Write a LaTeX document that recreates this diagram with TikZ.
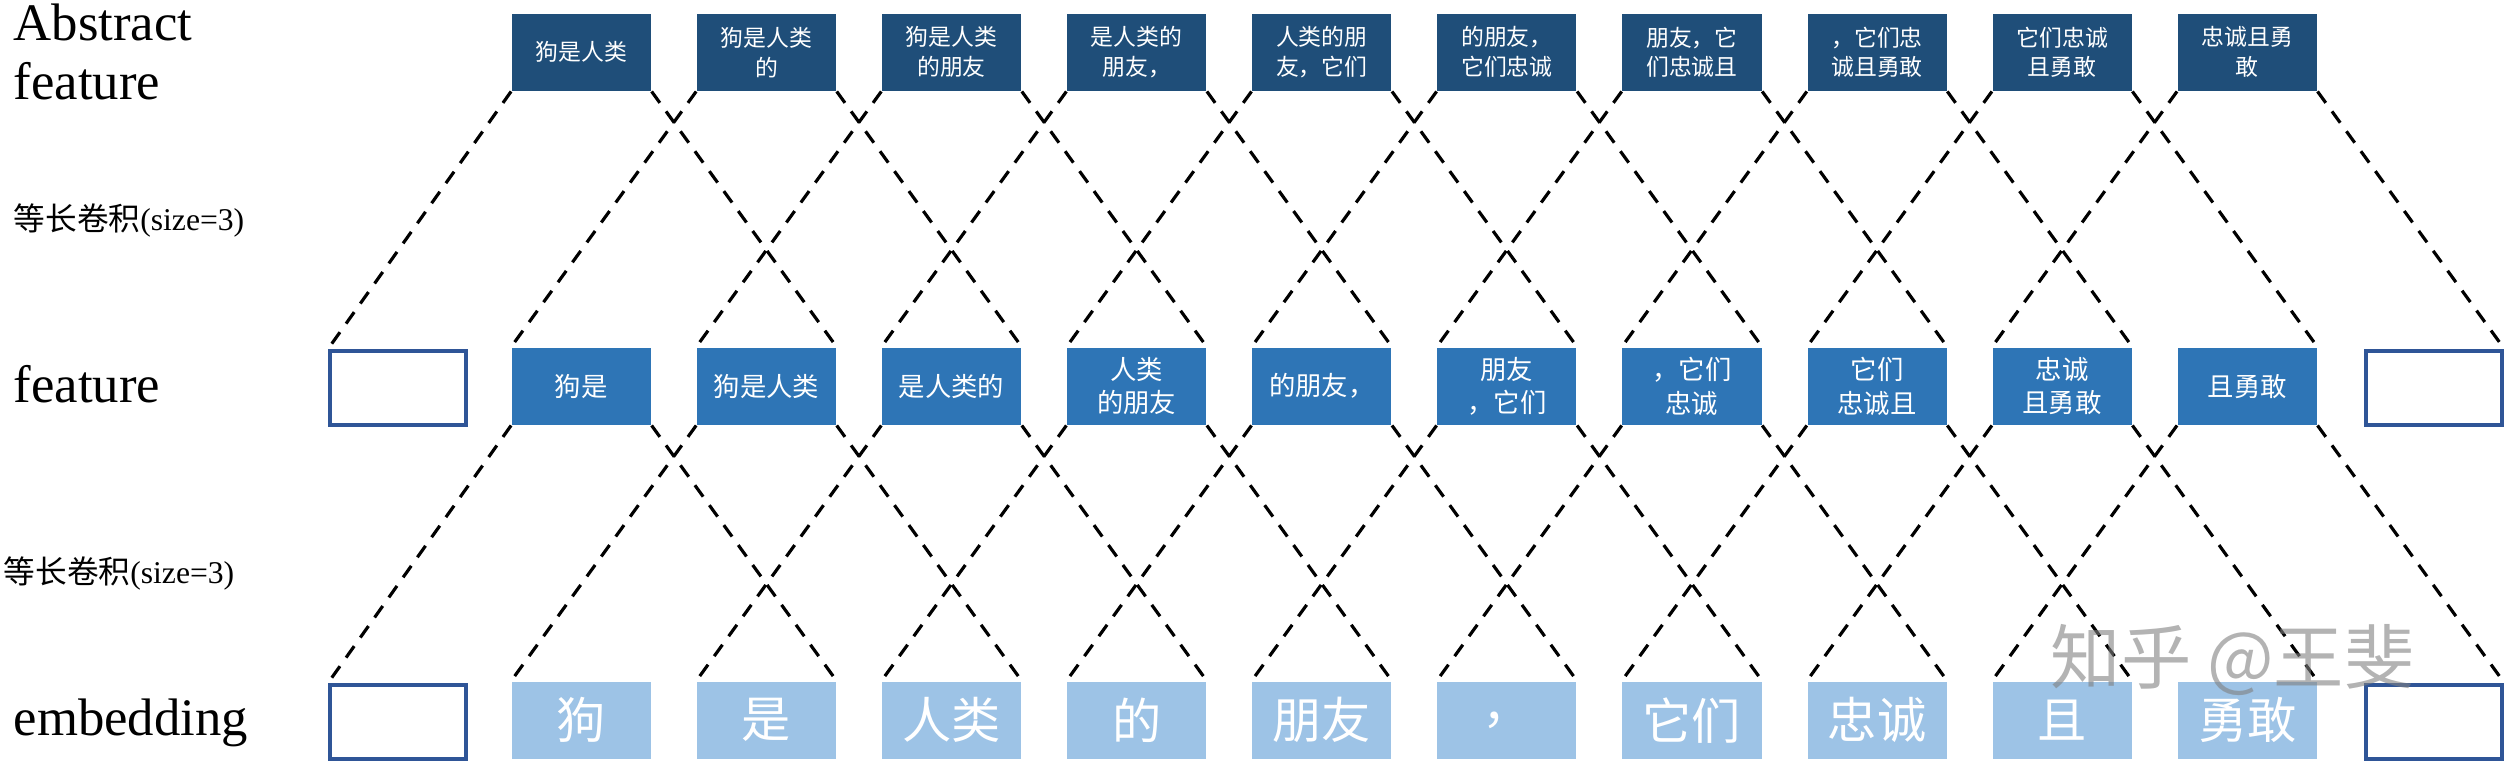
\documentclass[tikz,border=0pt]{standalone}
\usepackage{fontspec}
\setmainfont{Liberation Serif}
\newfontfamily\cjk{Noto Sans CJK SC}
\definecolor{topc}{HTML}{1F4E79}
\definecolor{featc}{HTML}{2E75B6}
\definecolor{embc}{HTML}{9DC3E6}
\definecolor{emptyc}{HTML}{2F5597}
\begin{document}
\begin{tikzpicture}[x=0.01cm,y=-0.01cm,
  box/.style={minimum width=1.39cm,minimum height=0.77cm,inner sep=0pt,anchor=north west,text=white,align=center},
  topbox/.style={box,fill=topc,font=\cjk\fontsize{6.5}{8.5}\selectfont},
  featbox/.style={box,fill=featc,font=\cjk\fontsize{7.5}{9.5}\selectfont},
  embbox/.style={box,fill=embc,font=\cjk\fontsize{14}{16}\selectfont},
  emptybox/.style={box,draw=emptyc,line width=1.2pt,minimum width=1.36cm,minimum height=0.74cm},
  dl/.style={dashed,line width=0.9pt,dash pattern=on 4pt off 3pt},
  lab/.style={anchor=west,inner sep=0pt}]
\useasboundingbox (0,0) rectangle (2509,764);
% top row
\foreach \i/\t in {1/狗是人类,2/狗是人类\\的,3/狗是人类\\的朋友,4/是人类的\\朋友，,5/人类的朋\\友，它们,6/的朋友，\\它们忠诚,7/朋友，它\\们忠诚且,8/，它们忠\\诚且勇敢,9/它们忠诚\\且勇敢,10/忠诚且勇\\敢}{
  \node[topbox] (t\i) at (326+185.1*\i,13) {\t};
}
% feature row
\node[emptybox] (f0) at (328,349) {};
\node[emptybox] (f11) at (328+185.1*11,349) {};
\foreach \i/\t in {1/狗是,2/狗是人类,3/是人类的,4/人类\\的朋友,5/的朋友，,6/朋友\\，它们,7/，它们\\忠诚,8/它们\\忠诚且,9/忠诚\\且勇敢,10/且勇敢}{
  \node[featbox] (f\i) at (326+185.1*\i,347) {\t};
}
% embedding row
\node[emptybox] (e0) at (328,683) {};
\node[emptybox] (e11) at (328+185.1*11,683) {};
\foreach \i/\t in {1/狗,2/是,3/人类,4/的,5/朋友,6/，,7/它们,8/忠诚,9/且,10/勇敢}{
  \node[embbox] (e\i) at (326+185.1*\i,681) {\t};
}
% connectors
\foreach \i in {1,...,10}{
  \pgfmathtruncatemacro{\j}{\i-1}
  \pgfmathtruncatemacro{\k}{\i+1}
  \draw[dl] (t\i.south west) -- (f\j.north west);
  \draw[dl] (t\i.south east) -- (f\k.north east);
  \draw[dl] (f\i.south west) -- (e\j.north west);
  \draw[dl] (f\i.south east) -- (e\k.north east);
}
% labels
\node[lab,font=\fontsize{15}{17}\selectfont,align=left] (l1) at (13,52) {Abstract\\feature};
\node[lab,font=\fontsize{9}{11}\selectfont] (l2) at (13,221) {{\cjk 等长卷积}(size=3)};
\node[lab,font=\fontsize{15}{17}\selectfont] (l3) at (13,384) {feature};
\node[lab,font=\fontsize{9}{11}\selectfont] (l4) at (3,573) {{\cjk 等长卷积}(size=3)};
\node[lab,font=\fontsize{15}{17}\selectfont] (l5) at (13,723) {embedding};
% watermark
\node[lab,font=\cjk\fontsize{20}{22}\selectfont,text=gray,opacity=0.6] (wm) at (2050,660) {知乎 @王斐};
\end{tikzpicture}
\end{document}
